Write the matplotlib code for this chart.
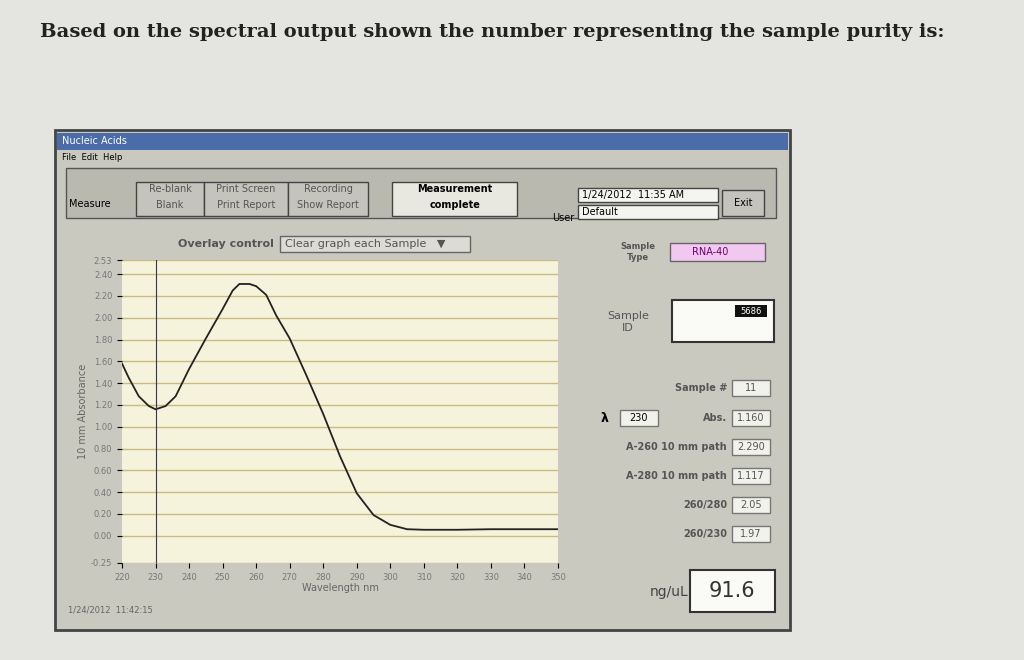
import matplotlib
matplotlib.use("Agg")
import matplotlib.pyplot as plt
from matplotlib.patches import Rectangle

wavelength = [220, 222, 225, 228, 230, 233, 236, 240, 245, 250, 253, 255, 258, 260, 263, 266, 270, 275, 280,
              285, 290, 295, 300, 305, 310, 320, 330, 340, 350]
absorbance = [1.58, 1.45, 1.28, 1.19, 1.16, 1.19, 1.28, 1.53, 1.81, 2.08, 2.25, 2.31, 2.31, 2.29, 2.21, 2.02,
              1.81, 1.47, 1.117, 0.73, 0.39, 0.19, 0.10, 0.06, 0.055, 0.055, 0.06, 0.06, 0.06]
y_ticks = [-0.25, 0.00, 0.20, 0.40, 0.60, 0.80, 1.00, 1.20, 1.40, 1.60, 1.80, 2.00, 2.20, 2.40, 2.53]
x_ticks = list(range(220, 351, 10))
panel_labels = ["Sample #", "Abs.", "A-260 10 mm path", "A-280 10 mm path", "260/280", "260/230"]
panel_values = ["11", "1.160", "2.290", "1.117", "2.05", "1.97"]

W, H = 1024, 660
fig = plt.figure(figsize=(10.24, 6.6), dpi=100)
fig.patch.set_facecolor("#e4e4e0")
bg = fig.add_axes([0, 0, 1, 1]); bg.set_xlim(0, W); bg.set_ylim(H, 0); bg.axis("off")

def rect(x, y, w, h, fc, ec="none", lw=1):
    bg.add_patch(Rectangle((x, y), w, h, fc=fc, ec=ec, lw=lw))

bg.text(40, 32, "Based on the spectral output shown the number representing the sample purity is:",
        family="DejaVu Serif", fontsize=14, fontweight="bold", va="center", color="#222222")
rect(55, 130, 735, 500, "#c9c9c0", "#444444", 2)
rect(57, 133, 731, 17, "#4a6ca8")
bg.text(62, 141, "Nucleic Acids", color="white", fontsize=7, va="center")
bg.text(62, 158, "File  Edit  Help", fontsize=6, va="center")
rect(66, 168, 710, 50, "#b9b9b0", "#555555")
for x, w, t1, t2 in [(136, 68, "Re-blank", "Blank"), (204, 84, "Print Screen", "Print Report"), (288, 80, "Recording", "Show Report")]:
    rect(x, 182, w, 34, "#c4c4bc", "#444444")
    bg.text(x + w / 2, 192, t1, ha="center", fontsize=7, color="#555")
    bg.text(x + w / 2, 208, t2, ha="center", fontsize=7, color="#555")
bg.text(90, 207, "Measure", fontsize=7, ha="center")
rect(392, 182, 125, 34, "#e8e8e0", "#444444")
bg.text(455, 192, "Measurement", ha="center", fontsize=7, fontweight="bold")
bg.text(455, 208, "complete", ha="center", fontsize=7, fontweight="bold")
rect(578, 188, 140, 14, "#f4f4f0", "#444"); bg.text(582, 195, "1/24/2012  11:35 AM", fontsize=7, va="center")
rect(578, 205, 140, 14, "#f4f4f0", "#444"); bg.text(582, 212, "Default", fontsize=7, va="center")
bg.text(552, 218, "User", fontsize=7, va="center")
rect(722, 190, 42, 26, "#c4c4bc", "#444"); bg.text(743, 203, "Exit", ha="center", va="center", fontsize=7)
bg.text(274, 244, "Overlay control", fontsize=8, fontweight="bold", color="#555", va="center", ha="right")
rect(280, 236, 190, 16, "#dcdcd4", "#666"); bg.text(285, 244, "Clear graph each Sample   \u25bc", fontsize=8, va="center", color="#555")
bg.text(638, 252, "Sample\nType", ha="center", va="center", fontsize=6, fontweight="bold", color="#555")
rect(670, 243, 95, 18, "#f0c8f0", "#666"); bg.text(710, 252, "RNA-40", ha="center", va="center", fontsize=7, color="#700070")
bg.text(628, 322, "Sample\nID", ha="center", va="center", fontsize=8, color="#555")
rect(672, 300, 102, 42, "#fafaf6", "#333", 1.5)
rect(735, 305, 32, 12, "#111"); bg.text(751, 311, "5686", color="white", fontsize=6, ha="center", va="center")
rows_y = [388, 418, 447, 476, 505, 534]
for lab, val, y in zip(panel_labels, panel_values, rows_y):
    bg.text(727, y, lab, ha="right", va="center", fontsize=7, color="#555", fontweight="bold")
    rect(732, y - 8, 38, 16, "#f2f2ec", "#777")
    bg.text(751, y, val, ha="center", va="center", fontsize=7, color="#555")
bg.text(601, 418, "\u03bb", fontsize=9, va="center", fontweight="bold")
rect(620, 410, 38, 16, "#f2f2ec", "#777"); bg.text(639, 418, "230", ha="center", va="center", fontsize=7)
bg.text(650, 592, "ng/uL", fontsize=10, va="center", color="#444")
rect(690, 570, 85, 42, "#fafaf6", "#333", 1.5)
bg.text(732, 591, "91.6", ha="center", va="center", fontsize=15, color="#333")
bg.text(68, 610, "1/24/2012  11:42:15", fontsize=6, color="#666", va="center")

ax = fig.add_axes([122 / W, 1 - 563 / H, (558 - 122) / W, (563 - 260) / H])
ax.set_facecolor("#f6f3dc")
ax.plot(wavelength, absorbance, color="#222222", lw=1.3)
ax.axvline(230, color="#333355", lw=0.8)
ax.set_xlim(220, 350); ax.set_ylim(-0.25, 2.53)
ax.set_yticks(y_ticks); ax.set_yticklabels([f"{v:.2f}" for v in y_ticks], fontsize=6, color="#777")
ax.set_xticks(x_ticks); ax.set_xticklabels([str(v) for v in x_ticks], fontsize=6, color="#777")
ax.grid(axis="y", color="#c8bc80", lw=1)
ax.set_xlabel("Wavelength nm", fontsize=7, color="#666", labelpad=1)
ax.set_ylabel("10 mm Absorbance", fontsize=7, color="#666", labelpad=2)
for s in ax.spines.values():
    s.set_visible(False)
fig.savefig("out.png", dpi=100, facecolor=fig.get_facecolor())
